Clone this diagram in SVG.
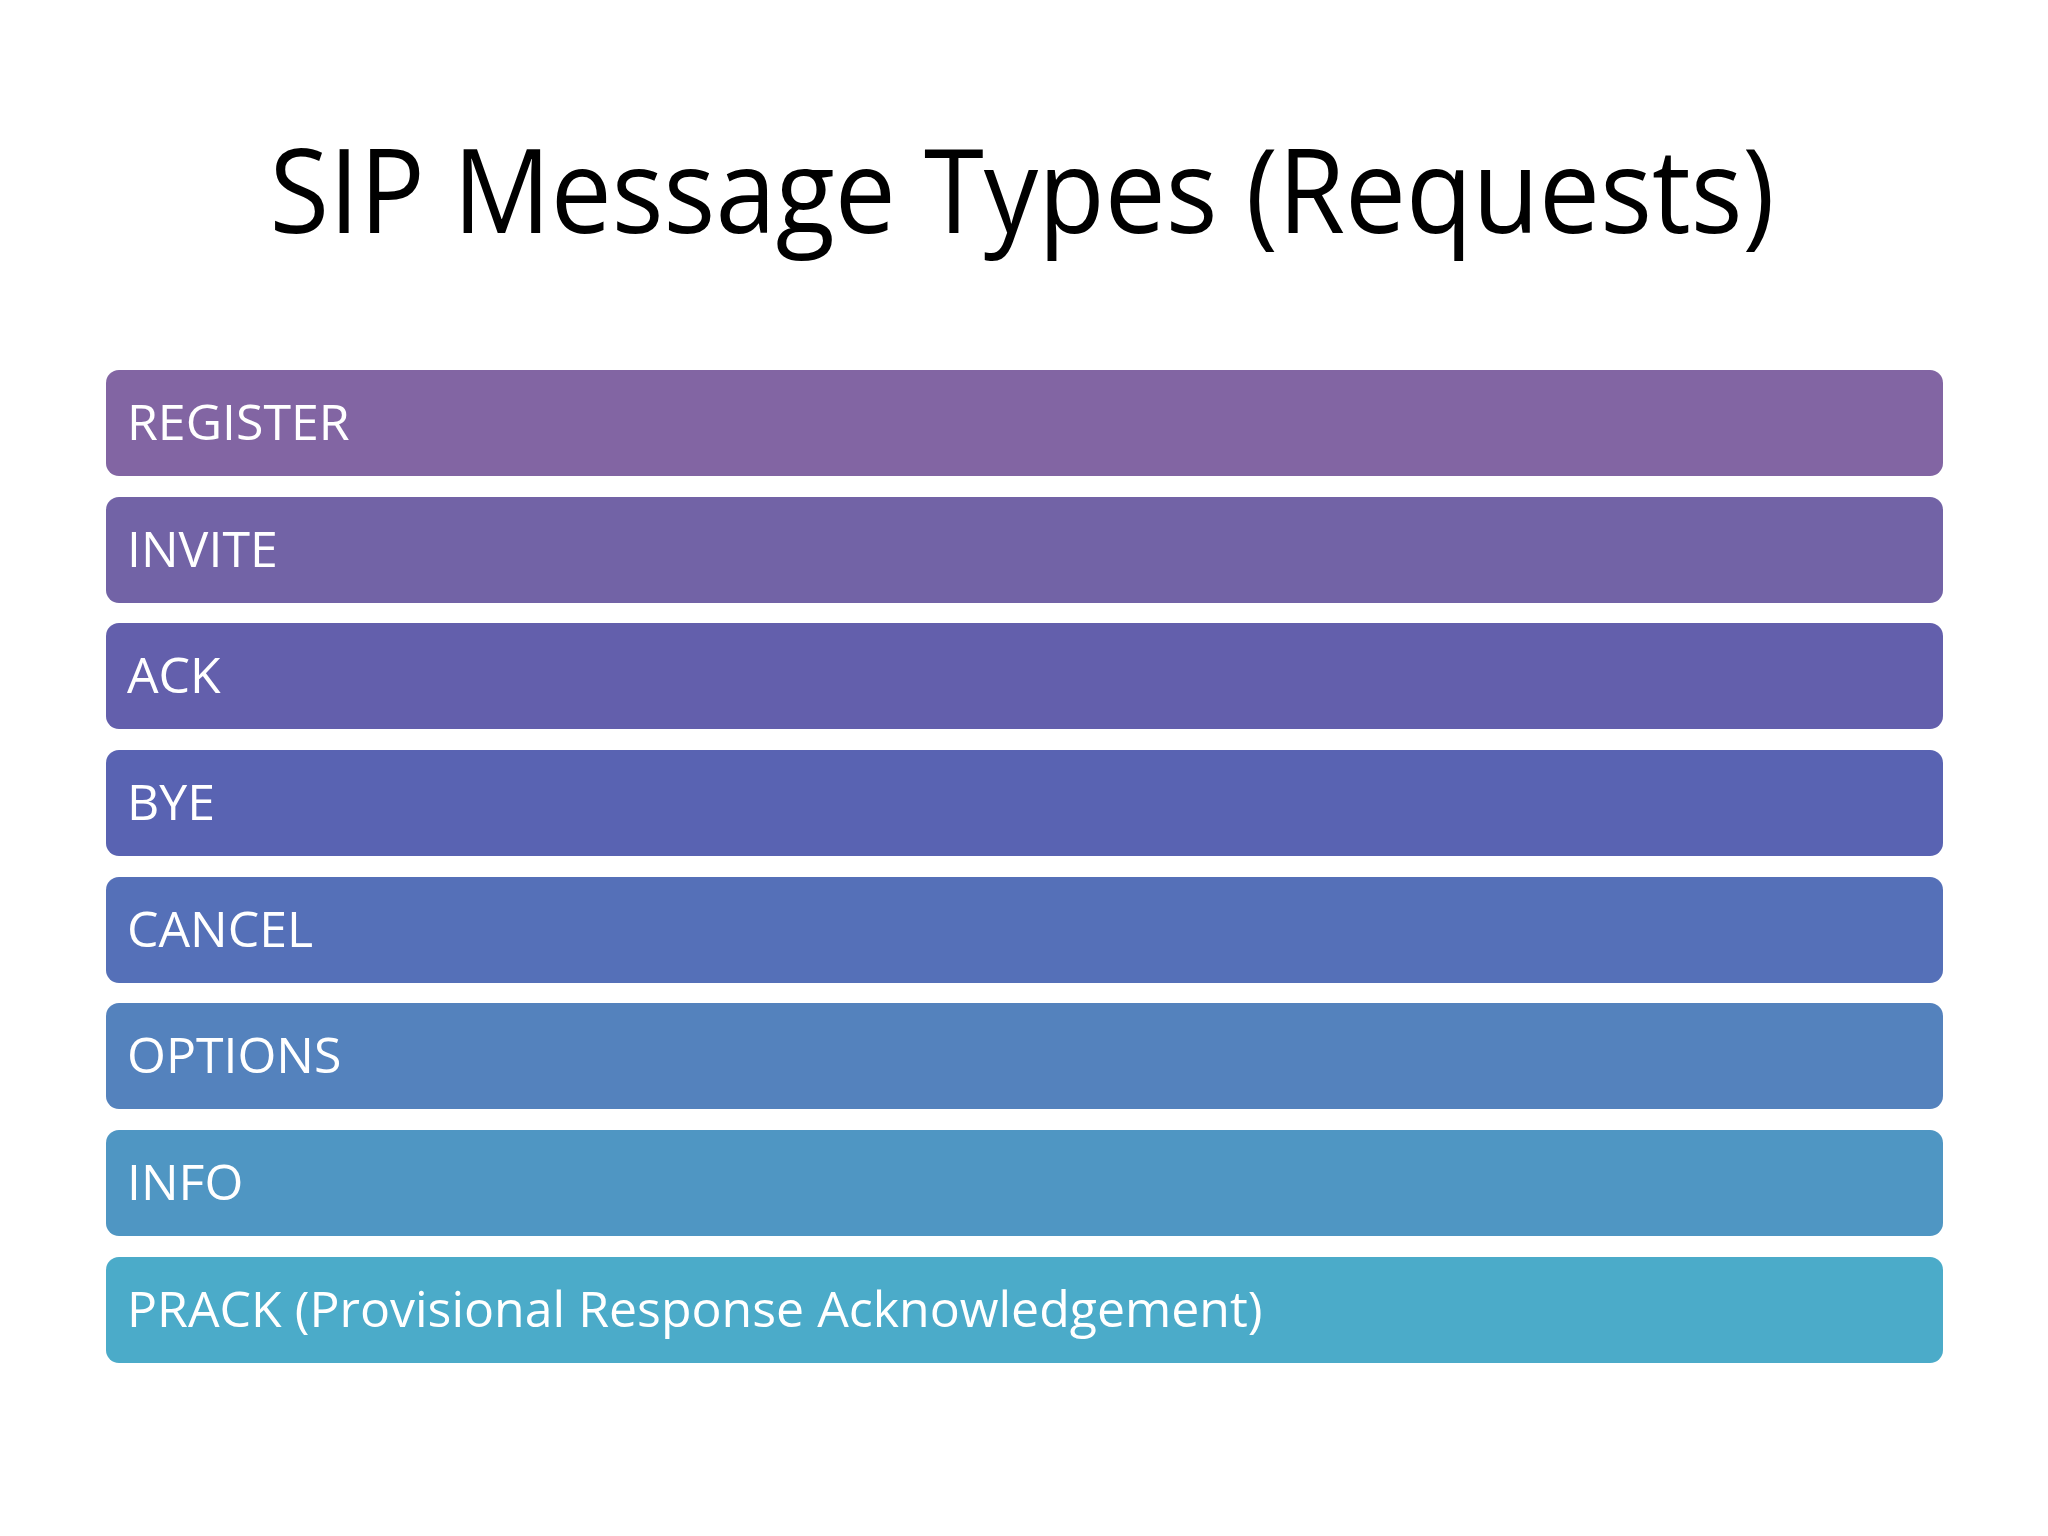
<svg xmlns="http://www.w3.org/2000/svg" width="2048" height="1536" viewBox="0 0 2048 1536">
<style>
.t{font-family:"Open Sans","Noto Sans",sans-serif;fill:#000;font-size:118px}
.l{font-family:"Open Sans","Noto Sans",sans-serif;fill:#fff;font-size:50px}
</style>
<rect width="2048" height="1536" fill="#fff"/>
<text class="t" x="1022" y="233" text-anchor="middle" textLength="1505" lengthAdjust="spacingAndGlyphs">SIP Message Types (Requests)</text>
<g id="n1"><rect x="106" y="370" width="1837" height="106" rx="13" fill="#8265A3"/><text class="l" x="127" y="440">REGISTER</text></g>
<g id="n2"><rect x="106" y="497" width="1837" height="106" rx="13" fill="#7263A6"/><text class="l" x="127" y="567">INVITE</text></g>
<g id="n3"><rect x="106" y="623" width="1837" height="106" rx="13" fill="#635FAC"/><text class="l" x="127" y="693">ACK</text></g>
<g id="n4"><rect x="106" y="750" width="1837" height="106" rx="13" fill="#5963B2"/><text class="l" x="127" y="820">BYE</text></g>
<g id="n5"><rect x="106" y="877" width="1837" height="106" rx="13" fill="#5570B8"/><text class="l" x="127" y="947">CANCEL</text></g>
<g id="n6"><rect x="106" y="1003" width="1837" height="106" rx="13" fill="#5482BD"/><text class="l" x="127" y="1073">OPTIONS</text></g>
<g id="n7"><rect x="106" y="1130" width="1837" height="106" rx="13" fill="#4F96C3"/><text class="l" x="127" y="1200">INFO</text></g>
<g id="n8"><rect x="106" y="1257" width="1837" height="106" rx="13" fill="#4BABC9"/><text class="l" x="127" y="1327">PRACK (Provisional Response Acknowledgement)</text></g>
<g id="connectors"/>
</svg>
